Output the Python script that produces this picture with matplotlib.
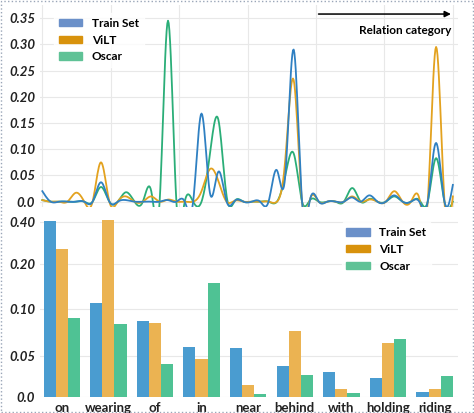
import numpy as np
import matplotlib as mpl
import matplotlib.pyplot as plt
from matplotlib.patches import Patch, Rectangle

mpl.rcParams.update({"font.family": ["Lato", "DejaVu Sans"]})

# top panel: share per relation category (50 categories)
train_curve = [.02, 0, 0, 0, 0, 0, 0, .037, 0, 0, .003, 0, 0, 0, 0, .003, 0, 0, 0, .168,
               .017, .057, 0, .002, 0, 0, 0, 0, .06, .05, .29, 0, .007, 0, 0, 0, 0, .008, 0, .012,
               0, 0, .012, 0, 0, 0, 0, .112, 0, .032]
vilt_curve = [.003, 0, 0, 0, .017, 0, 0, .075, 0, 0, .01, 0, 0, .01, 0, .004, 0, 0, 0, .02,
              .062, .04, 0, .002, 0, 0, 0, 0, 0, .08, .232, 0, .007, 0, 0, 0, 0, .01, 0, .004,
              0, 0, .02, 0, 0, .006, 0, .295, 0, .01]
oscar_curve = [.003, 0, 0, 0, 0, 0, 0, .028, 0, 0, .018, 0, 0, .02, 0, .345, 0, 0, 0, 0,
               .09, .157, .01, .002, 0, 0, 0, 0, 0, .05, .092, 0, .004, 0, 0, 0, 0, .026, 0, .005,
               0, 0, .01, 0, 0, .003, 0, .083, 0, 0]

# bottom panel: top relations
relations = ["on", "wearing", "of", "in", "near", "behind", "with", "holding", "riding"]
train_bar = [.405, .113, .087, .059, .058, .037, .030, .023, .006]
vilt_bar = [.273, .41, .085, .046, .015, .077, .009, .064, .009]
oscar_bar = [.091, .084, .040, .158, .004, .027, .005, .068, .025]

LINE_C = ["#2f80c2", "#e3a21f", "#2bae78"]
BAR_C = ["#4a9cd0", "#ebb352", "#4fc294"]
LEG_C = ["#6b90c9", "#d8920c", "#5fc296"]
names = ["Train Set", "ViLT", "Oscar"]


def smooth(y, n=12):
    # natural cubic spline through the category values (drawing only)
    y = np.asarray(y, float)
    k = len(y)
    A = np.zeros((k, k))
    r = np.zeros(k)
    A[0, 0] = A[-1, -1] = 1
    for i in range(1, k - 1):
        A[i, i - 1:i + 2] = [1, 4, 1]
        r[i] = 6 * (y[i + 1] - 2 * y[i] + y[i - 1])
    M = np.linalg.solve(A, r)
    xs, ys = [], []
    for i in range(k - 1):
        t = np.linspace(0, 1, n, endpoint=False)
        ys.append((1 - t) * y[i] + t * y[i + 1]
                  + ((1 - t) ** 3 - (1 - t)) * M[i] / 6 + (t ** 3 - t) * M[i + 1] / 6)
        xs.append(i + t)
    xs.append([k - 1]); ys.append([y[-1]])
    return np.concatenate(xs), np.concatenate(ys)


def tick_style(ax):
    for lab in ax.get_yticklabels() + ax.get_xticklabels():
        lab.set_fontweight("bold")
    for lab in ax.get_yticklabels():
        lab.set_fontstyle("italic")
    for s in ax.spines.values():
        s.set_visible(False)
    ax.tick_params(length=0, colors="#222", labelsize=9.5)


fig = plt.figure(figsize=(4.74, 4.13), dpi=100)
ax1 = fig.add_axes([0.084, 0.499, 0.882, 0.489])
for y, c in zip([train_curve, vilt_curve, oscar_curve][::-1], LINE_C[::-1]):
    xs, ys = smooth(y)
    ax1.plot(xs, ys, color=c, lw=1.3)
ax1.set_xlim(-0.3, 49.6)
ax1.set_ylim(-0.01, 0.375)
ax1.set_yticks([0, .05, .1, .15, .2, .25, .3, .35])
ax1.set_yticklabels(["0.0", "0.05", "0.10", "0.15", "0.20", "0.25", "0.30", "0.35"])
ax1.set_xticks(np.linspace(0, 49, 7))
ax1.set_xticklabels([])
ax1.grid(color="#e8e8e8", lw=0.8)
ax1.set_axisbelow(True)
tick_style(ax1)
ax1.legend([Patch(color=c) for c in LEG_C], names, loc="upper left",
           bbox_to_anchor=(0.02, 0.99), frameon=True, edgecolor="white",
           prop={"weight": "bold", "size": 8.5}, handlelength=2, handleheight=0.6)
ax1.annotate("", xy=(0.99, 0.955), xytext=(0.66, 0.955), xycoords="axes fraction",
             arrowprops=dict(arrowstyle="-|>", color="black", lw=1.1, mutation_scale=9))
ax1.text(0.985, 0.9, "Relation category", transform=ax1.transAxes, ha="right",
         va="top", fontsize=8.5, fontweight="bold")

ax2 = fig.add_axes([0.084, 0.039, 0.882, 0.446])
kv = [0, .05, .1, .2, .4, .6]
kp = [0, 1, 2.13, 3.23, 4.25, 5.27]
ax2.set_yscale("function", functions=(lambda v: np.interp(v, kv, kp),
                                      lambda p: np.interp(p, kp, kv)))
x = np.arange(len(relations))
w = 0.26
for i, (vals, c) in enumerate(zip([train_bar, vilt_bar, oscar_bar], BAR_C)):
    ax2.bar(x + (i - 1) * w, vals, w, color=c)
ax2.set_xlim(-0.47, 8.5)
ax2.set_ylim(0, 0.445)
ax2.set_yticks([0, .05, .1, .2, .4])
ax2.set_yticklabels(["0.0", "0.05", "0.10", "0.20", "0.40"])
ax2.minorticks_off()
ax2.set_xticks(x)
ax2.set_xticklabels(relations)
ax2.grid(axis="y", color="#e8e8e8", lw=0.8)
ax2.set_axisbelow(True)
tick_style(ax2)
ax2.legend([Patch(color=c) for c in LEG_C], names, loc="upper right",
           bbox_to_anchor=(0.95, 0.98), frameon=True, edgecolor="white",
           prop={"weight": "bold", "size": 8.5}, handlelength=2, handleheight=0.6)

fig.patches.append(Rectangle((0.002, 0.002), 0.996, 0.996, transform=fig.transFigure,
                             fill=False, ls=":", lw=1, ec="#9aa6b8"))
fig.savefig("out.png", dpi=100, facecolor="white")
